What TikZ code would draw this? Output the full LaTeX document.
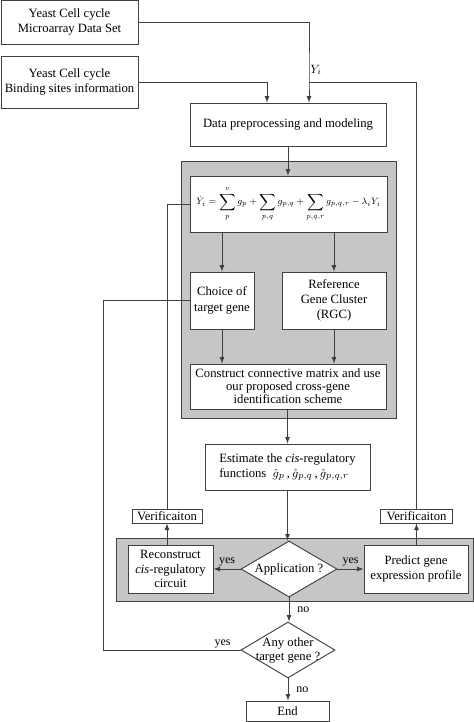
\documentclass[tikz,border=0pt]{standalone}
\usepackage{fontspec}
\setmainfont{Liberation Serif}
\usetikzlibrary{arrows,shapes.geometric}

\begin{document}
\begin{tikzpicture}[x = 0.75pt, y = -0.75pt, >=latex,
    font = \fontsize{9.5}{11.5}\selectfont,
    box/.style = {draw = black!75, line width = 0.7pt, fill = white, align = center, inner sep = 1pt},
    decision/.style = {box, diamond, aspect = 2, inner sep = 0pt},
    panel/.style = {draw = black!75, line width = 0.7pt, fill = gray!45},
    flow/.style = {draw = black!75, line width = 0.7pt},
    tag/.style = {font = \fontsize{9}{10}\selectfont, inner sep = 1pt}]
    \useasboundingbox (0,0) rectangle (474,722);

    % shaded groups
    \draw[panel] (181,161) rectangle (396,418);
    \draw[panel] (116,538) rectangle (473,601);

    \node[box, minimum width = 102.75pt, minimum height = 33pt]    (micro)   at ( 69.5, 22)   {Yeast Cell cycle\\Microarray Data Set};
    \node[box, minimum width = 102.75pt, minimum height = 39pt]    (bind)    at ( 69.5, 82)   {Yeast Cell cycle\\Binding sites information};
    \node[box, minimum width = 147pt,    minimum height = 32.25pt] (data)    at (288, 124.5)  {Data preprocessing and modeling};

    \node[box, minimum width = 147.75pt, minimum height = 42pt,
          font = \fontsize{8}{9.5}\selectfont]                      (formula) at (288.5, 204)  {\scalebox{0.87}{$\displaystyle \dot{Y}_i=\sum_{p}^{v} g_p+\sum_{p,q} g_{p,q}+\sum_{p,q,r} g_{p,q,r}-\lambda_i Y_i$}};
    \node[box, minimum width = 48pt,     minimum height = 42.75pt] (choice)  at (222, 300.5)  {Choice of\\target gene};
    \node[box, minimum width = 78pt,     minimum height = 42.75pt] (rgc)     at (334, 300.5)  {Reference\\Gene Cluster\\(RGC)};
    \node[box, minimum width = 147pt,    minimum height = 33.75pt,
          font = \fontsize{9.5}{9.8}\selectfont]                    (matrix)  at (288, 386.5)  {Construct connective matrix and use\\our proposed cross-gene\\identification scheme};

    \node[box, minimum width = 123.75pt, minimum height = 34.5pt, align = left] (estimate) at (287.5, 467) {Estimate the \textit{cis}-regulatory\\functions \ $\hat{g}_p$\,,\,$\hat{g}_{p,q}$\,,\,$\hat{g}_{p,q,r}$};
    \node[box, minimum width = 52.5pt,   minimum height = 10.5pt, inner sep = 0pt] (verL) at (167, 516)   {Verificaiton};
    \node[box, minimum width = 54pt,     minimum height = 10.5pt, inner sep = 0pt] (verR) at (416.5, 516) {Verificaiton};

    \node[decision, minimum width = 72pt, minimum height = 42pt]   (app)     at (289, 569)    {Application ?};
    \node[box, minimum width = 63.75pt,  minimum height = 36pt,
          font = \fontsize{9.5}{10.8}\selectfont]                   (recon)   at (170.5, 569)  {Reconstruct\\\textit{cis}-regulatory\\circuit};
    \node[box, minimum width = 78pt,     minimum height = 36pt]    (predict) at (416, 569)    {Predict gene\\expression profile};

    \node[decision, minimum width = 70.5pt, minimum height = 42pt,
          inner sep = -4pt, font = \fontsize{9.5}{10.5}\selectfont] (other)   at (288, 650)    {Any other\\target gene ?};
    \node[box, minimum width = 62.25pt,  minimum height = 15pt]    (finish)  at (287.5, 711)  {End};

    \node[tag] (ylab) at (316, 70) {$Y_i$};
    \coordinate (yi)   at (309, 82);
    \coordinate (bi)   at (267, 82);
    \coordinate (back) at (103, 650);

    \draw[flow, ->] (micro.east) -| (yi) -- (yi |- data.north);
    \draw[flow, ->] (bind.east) -| (bi |- data.north);
    \draw[flow]     (verR.north) |- (yi);

    \draw[flow, ->] (data.south) -- (data.south |- formula.north);
    \draw[flow, ->] (choice.north |- formula.south) -- (choice.north);
    \draw[flow, ->] (rgc.north |- formula.south) -- (rgc.north);
    \draw[flow, ->] (choice.south) -- (choice.south |- matrix.north);
    \draw[flow, ->] (rgc.south) -- (rgc.south |- matrix.north);
    \draw[flow, ->] (matrix.south -| estimate.north) -- (estimate.north);
    \draw[flow, ->] (estimate.south) -- (estimate.south |- app.north);

    \draw[flow, ->] (app.west) -- node[tag, above = 1pt] {yes} (recon.east);
    \draw[flow, ->] (app.east) -- node[tag, above = 1pt] {yes} (predict.west);
    \draw[flow, ->] (verL.south |- recon.north) -- (verL.south);
    \draw[flow, ->] (predict.north -| verR.south) -- (verR.south);
    \draw[flow]     (verL.north) |- (formula.west);

    \draw[flow, ->] (app.south) -- node[tag, right = 5pt] {no} (app.south |- other.north);
    \draw[flow, ->] (other.south) -- node[tag, right = 5pt] {no} (other.south |- finish.north);
    \draw[flow]     (other.west) -- node[tag, above, pos = 0.13] {yes} (back) |- (choice.west);

\end{tikzpicture}
\end{document}
